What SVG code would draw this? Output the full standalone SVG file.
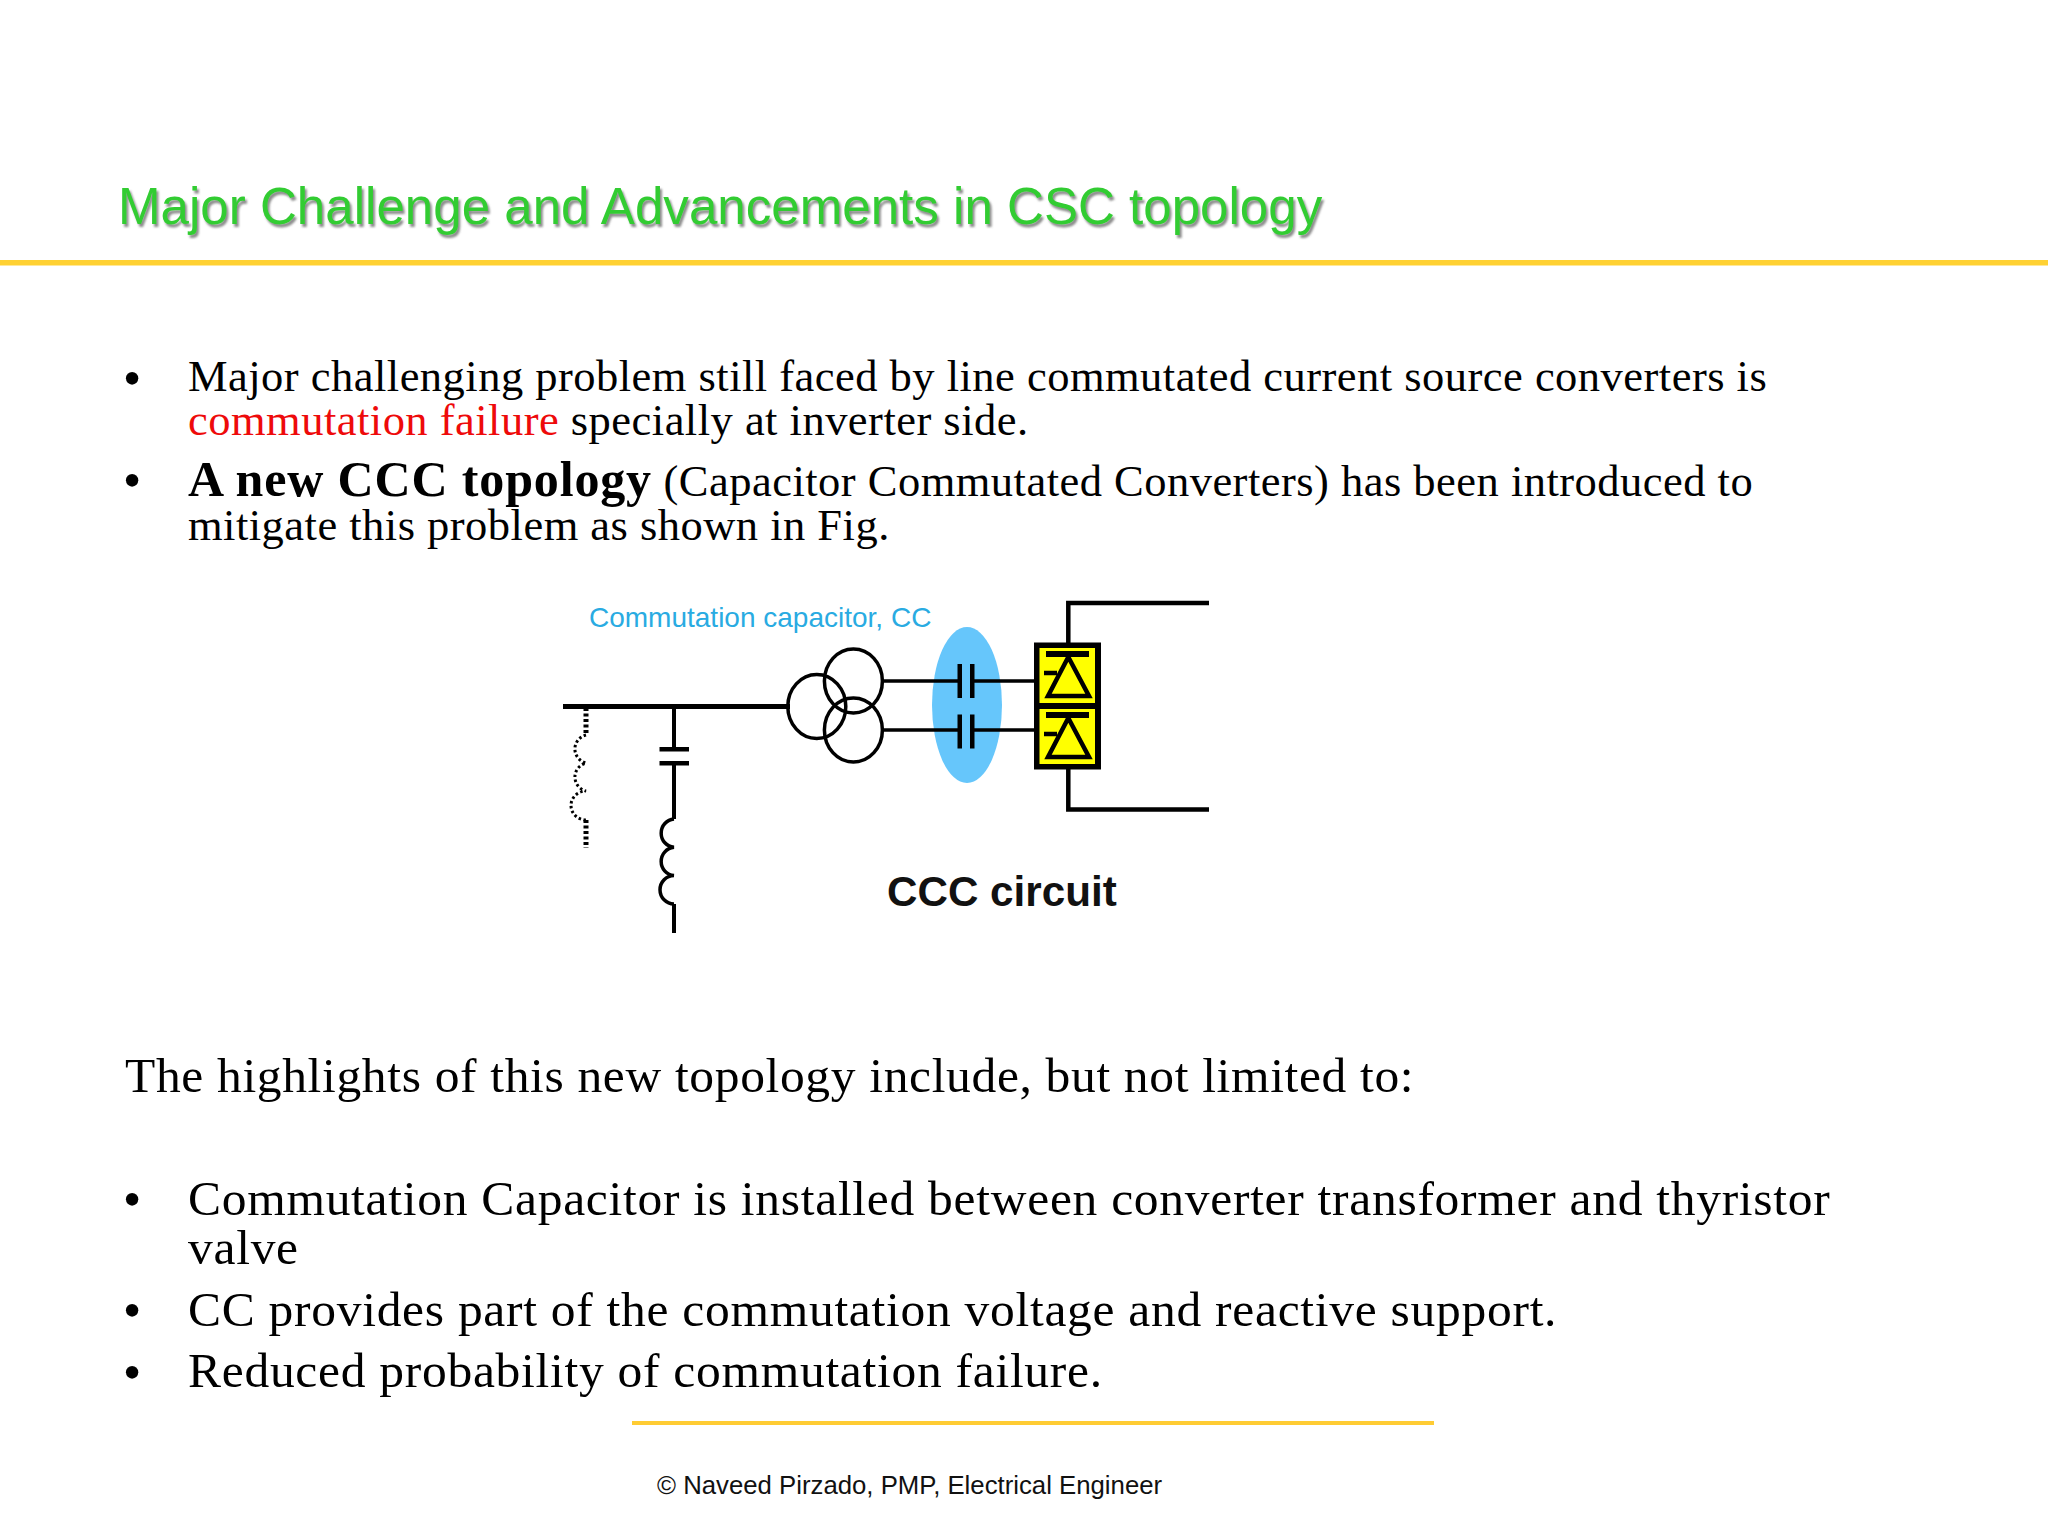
<svg xmlns="http://www.w3.org/2000/svg" width="2048" height="1536" viewBox="0 0 2048 1536">
<style>
.s{font-family:"Liberation Serif","Times New Roman",serif;fill:#000}
.b{font-size:49.5px;letter-spacing:.72px}
.c{font-size:44.5px;letter-spacing:.48px}
.d{font-size:52px}
.y{fill:#ff0}
.k{fill:none;stroke:#000;stroke-width:4.5}
.p{fill:#000}
.f{font-family:"Liberation Sans",Arial,sans-serif}
</style>
<defs>
<filter id="sh" x="-2%" y="-20%" width="104%" height="150%"><feDropShadow dx="2" dy="3" stdDeviation="1.2" flood-color="#666" flood-opacity=".75"/></filter>
<g id="valve">
<rect class="y" x="1039.500" y="0" width="55.500" height="55"/>
<rect class="p" x="1046" y="3" width="43" height="6"/>
<path class="k" d="M1068.300 9 L1048 48 H1089 Z"/>
<path class="k" d="M1044 25 H1057"/>
</g>
<g id="cap">
<path class="p" d="M957.500 0H962V34H957.500ZM970 0H974.500V34H970Z"/>
</g>
</defs>
<rect width="2048" height="1536" fill="#fff"/>
<g id="header">
<text class="f" x="118" y="224" font-size="51.100" fill="#33cc33" filter="url(#sh)">Major Challenge and Advancements in CSC topology</text>
<rect x="0" y="260" width="2048" height="5.500" fill="#ffd133"/>
</g>
<g id="body">
<text class="s d" x="123" y="396">•</text>
<text class="s c" x="188" y="391">Major challenging problem still faced by line commutated current source converters is</text>
<text class="s c" x="188" y="435"><tspan fill="#ee0a0a">commutation failure</tspan> specially at inverter side.</text>
<text class="s d" x="123" y="498">•</text>
<text class="s c" x="188" y="496"><tspan font-weight="bold" font-size="50" letter-spacing=".85">A new CCC topology</tspan> (Capacitor Commutated Converters) has been introduced to</text>
<text class="s c" x="188" y="540">mitigate this problem as shown in Fig.</text>
<text class="s b" x="125" y="1092" style="letter-spacing:.66px">The highlights of this new topology include, but not limited to:</text>
<text class="s d" x="123" y="1217">•</text>
<text class="s b" x="188" y="1215">Commutation Capacitor is installed between converter transformer and thyristor</text>
<text class="s b" x="188" y="1264">valve</text>
<text class="s d" x="123" y="1328">•</text>
<text class="s b" x="188" y="1325.500">CC provides part of the commutation voltage and reactive support.</text>
<text class="s d" x="123" y="1390.300">•</text>
<text class="s b" x="188" y="1387">Reduced probability of commutation failure.</text>
</g>
<g id="connectors" fill="none" stroke="#000">
<path stroke-width="5" d="M563 706.500H790"/>
<path stroke-width="4" d="M674 706V748M674 764V819M674 904V933"/>
<path stroke-width="3.500" d="M674 819A14 14.200 0 0 0 674 847.300A14 14.200 0 0 0 674 875.600A14 14.200 0 0 0 674 904"/>
<path stroke-width="4.500" d="M1209 603H1068.300V643M1068.300 769V809.500H1209"/>
<path stroke-width="5" stroke-dasharray="3 2.500" d="M586 708V735M586 820V848"/>
<path stroke-width="3" stroke-dasharray="2.500 2.500" d="M586 735A15 14.500 0 0 0 586 763A15 14.500 0 0 0 586 791A15 14.500 0 0 0 586 820"/>
</g>
<g id="commutation-capacitor">
<ellipse cx="967" cy="705" rx="35" ry="78" fill="#66c6fb"/>
<use href="#cap" y="664"/>
<use href="#cap" y="714.500"/>
<path d="M882 681H958M974 681H1035M882 730H958M974 730H1035" fill="none" stroke="#000" stroke-width="3.500"/>
<text class="f" x="589" y="627" font-size="28" fill="#29abe2">Commutation capacitor, CC</text>
</g>
<g id="transformer" fill="none" stroke="#000" stroke-width="3.500">
<ellipse cx="816.800" cy="706.500" rx="29" ry="32"/>
<ellipse cx="853.400" cy="681" rx="29" ry="32"/>
<ellipse cx="853.400" cy="730" rx="29" ry="32"/>
</g>
<g id="shunt-capacitor">
<rect class="p" x="659.500" y="747" width="29.500" height="4.500"/>
<rect class="p" x="659.500" y="761" width="29.500" height="4.500"/>
</g>
<g id="thyristor-valves">
<rect class="p" x="1034" y="642.500" width="67" height="127"/>
<use href="#valve" y="648"/>
<use href="#valve" y="709"/>
</g>
<g id="ccc-label">
<text class="f" x="887" y="906" font-size="42.200" font-weight="bold" fill="#111">CCC circuit</text>
</g>
<g id="footer">
<rect x="632" y="1421" width="802" height="4" fill="#ffcc33"/>
<text class="f" x="657" y="1494" font-size="25.750" fill="#111">© Naveed Pirzado, PMP, Electrical Engineer</text>
</g>
</svg>
